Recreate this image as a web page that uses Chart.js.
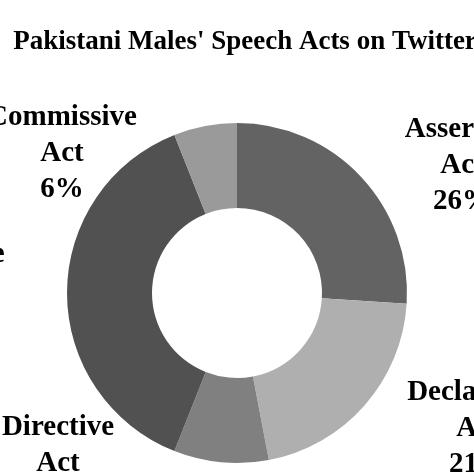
<!DOCTYPE html>
<html><head><script src="https://cdn.jsdelivr.net/npm/chart.js"></script>
<style>html,body{margin:0;padding:0;background:#fff;overflow:hidden}</style></head>
<body><div style="width:474px;height:474px"><canvas id="c"></canvas></div>
<script>
const titleText = "Pakistani Males' Speech Acts on Twitter";
const categories = ["Assertive Act","Declarative Act","Directive Act","Expressive Act","Commissive Act"];
const values = [26,21,9,38,6];
const colors = ["#636363","#afafaf","#808080","#515151","#9a9a9a"];
const labelPos = [[462,130],[478,393],[58,428],[-62,255],[62,118]];
const labelPlugin = {
  id:'lbl',
  afterDraw(chart){
    const ctx = chart.ctx;
    ctx.save();
    ctx.fillStyle='#000';
    ctx.textAlign='center';
    ctx.textBaseline='middle';
    ctx.font='bold 27px "Liberation Serif", serif';
    ctx.fillText(titleText, 245, 42);
    ctx.font='bold 29px "Liberation Serif", serif';
    categories.forEach((c,i)=>{
      const parts = c.split(' ');
      const lines=[parts[0],parts[1],values[i]+'%'];
      lines.forEach((t,j)=>ctx.fillText(t,labelPos[i][0],labelPos[i][1]+j*36));
    });
    ctx.restore();
  }
};
new Chart(document.getElementById('c'),{
  type:'doughnut',
  data:{labels:categories,datasets:[{data:values,backgroundColor:colors,borderWidth:0}]},
  options:{responsive:true,maintainAspectRatio:false,animation:false,cutout:'50%',
    layout:{padding:{top:123,bottom:11,left:67,right:67}},
    plugins:{legend:{display:false},tooltip:{enabled:false},title:{display:false}}},
  plugins:[labelPlugin]
});
</script></body></html>
